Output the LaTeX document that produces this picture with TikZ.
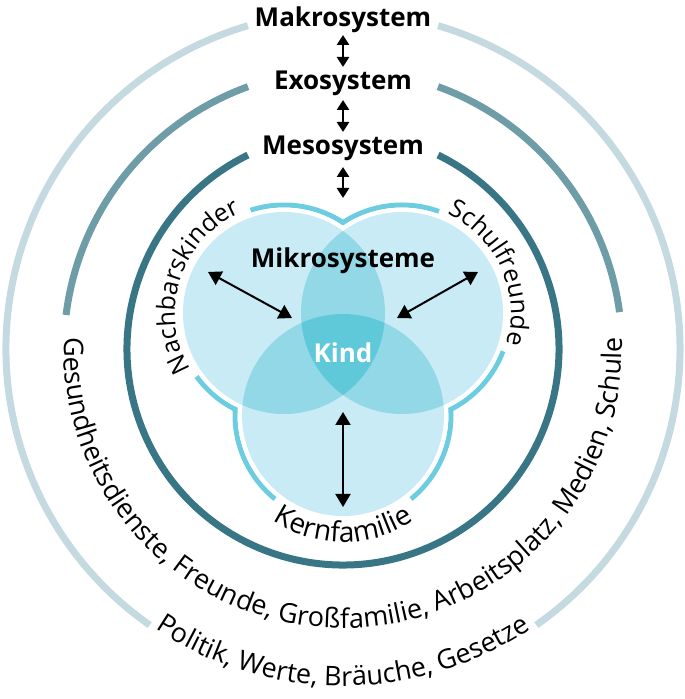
\documentclass[tikz,border=0pt]{standalone}
\usepackage{fontspec}
\setmainfont{Open Sans}
\usetikzlibrary{arrows.meta,decorations.text}
\definecolor{makroc}{HTML}{C4D9E0}
\definecolor{exoc}{HTML}{6E9DA8}
\definecolor{mesoc}{HTML}{387685}
\definecolor{contc}{HTML}{6CCDE0}
\definecolor{singc}{HTML}{C8EBF5}
\definecolor{dblc}{HTML}{93D8E7}
\definecolor{tric}{HTML}{5FC9DA}
\begin{document}
\begin{tikzpicture}[x=1pt,y=1pt,
  ring/.style={line width=7pt},
  contour/.style={line width=5pt,contc},
  title/.style={font=\fontsize{26}{26}\selectfont\bfseries,inner sep=0pt,anchor=base},
  smallarrow/.style={{Triangle[width=12pt,length=10pt]}-{Triangle[width=12pt,length=10pt]},line width=2.5pt},
  bigarrow/.style={{Triangle[width=15pt,length=13pt]}-{Triangle[width=15pt,length=13pt]},line width=2pt},
]
\useasboundingbox (0,0) rectangle (685,699);
\coordinate (C) at (343,350);
% rings
\draw[ring,makroc] (C) ++(-55:337) arc[start angle=-55,end angle=73.6,radius=337];
\draw[ring,makroc] (C) ++(106.4:337) arc[start angle=106.4,end angle=235,radius=337];
\draw[ring,exoc] (C) ++(7.6:279) arc[start angle=7.6,end angle=70.1,radius=279];
\draw[ring,exoc] (C) ++(109.9:279) arc[start angle=109.9,end angle=173,radius=279];
\draw[ring,mesoc] (C) ++(116.1:216) arc[start angle=116.1,end angle=423.9,radius=216];
% ring texts
\path[decorate,decoration={text along path,text align=center,
  text={|\fontsize{27}{27}\selectfont|Politik, Werte, Bräuche, Gesetze}}]
  (C) ++(225:337) arc[start angle=225,end angle=315,radius=337];
\path[decorate,decoration={text along path,text align=center,
  text={|\fontsize{27}{27}\selectfont|Gesundheitsdienste, Freunde, Großfamilie, Arbeitsplatz, Medien, Schule}}]
  (C) ++(165:279) arc[start angle=165,end angle=375,radius=279];
% titles
\node[title] (makro) at (343,672) {Makrosystem};
\node[title] (exo) at (343,609) {Exosystem};
\node[title] (meso) at (343,544) {Mesosystem};
% micro system
\coordinate (L) at (284,386);
\coordinate (R) at (402,386);
\coordinate (B) at (343,284);
\draw[contour] (L) ++(40:108) arc[start angle=40,end angle=108,radius=108];
\draw[contour] (L) ++(216:108) arc[start angle=216,end angle=300,radius=108];
\draw[contour] (R) ++(70:108) arc[start angle=70,end angle=140,radius=108];
\draw[contour] (R) ++(-120:108) arc[start angle=-120,end angle=-20.7,radius=108];
\draw[contour] (B) ++(120:108) arc[start angle=120,end angle=231,radius=108];
\draw[contour] (B) ++(-51:108) arc[start angle=-51,end angle=60,radius=108];
\fill[white] (L) circle (105.4) (R) circle (105.4) (B) circle (105.4);
\fill[singc] (L) circle (101) (R) circle (101) (B) circle (101);
\begin{scope}
  \clip (L) circle (101);
  \fill[dblc] (R) circle (101) (B) circle (101);
\end{scope}
\begin{scope}
  \clip (R) circle (101);
  \fill[dblc] (B) circle (101);
\end{scope}
\begin{scope}
  \clip (L) circle (101);
  \clip (R) circle (101);
  \fill[tric] (B) circle (101);
\end{scope}
% micro labels
\path[decorate,decoration={text along path,text align=center,
  text={|\fontsize{25}{25}\selectfont|Nachbarskinder}}]
  (L) ++(214:109) arc[start angle=214,end angle=110,radius=109];
\path[decorate,decoration={text along path,text align=center,
  text={|\fontsize{25}{25}\selectfont|Schulfreunde}}]
  (R) ++(70:109) arc[start angle=70,end angle=-21,radius=109];
\path[decorate,decoration={text along path,text align=center,
  text={|\fontsize{28}{28}\selectfont|Kernfamilie}}]
  (B) ++(225:127) arc[start angle=225,end angle=315,radius=127];
\node[title] (mikro) at (343,431) {Mikrosysteme};
\node[title,white] (kind) at (343,336) {Kind};
% arrows
\coordinate (a1s) at (343,664); \coordinate (a1e) at (343,632);
\coordinate (a2s) at (343,599); \coordinate (a2e) at (343,567);
\coordinate (a3s) at (343,532); \coordinate (a3e) at (343,501);
\draw[smallarrow] (a1s) -- (a1e);
\draw[smallarrow] (a2s) -- (a2e);
\draw[smallarrow] (a3s) -- (a3e);
\coordinate (nks) at (208,427); \coordinate (nke) at (292,381);
\coordinate (sfs) at (478,427); \coordinate (sfe) at (397,381);
\coordinate (kfs) at (343,287); \coordinate (kfe) at (343,192);
\draw[bigarrow] (nks) -- (nke);
\draw[bigarrow] (sfs) -- (sfe);
\draw[bigarrow] (kfs) -- (kfe);
\end{tikzpicture}
\end{document}
